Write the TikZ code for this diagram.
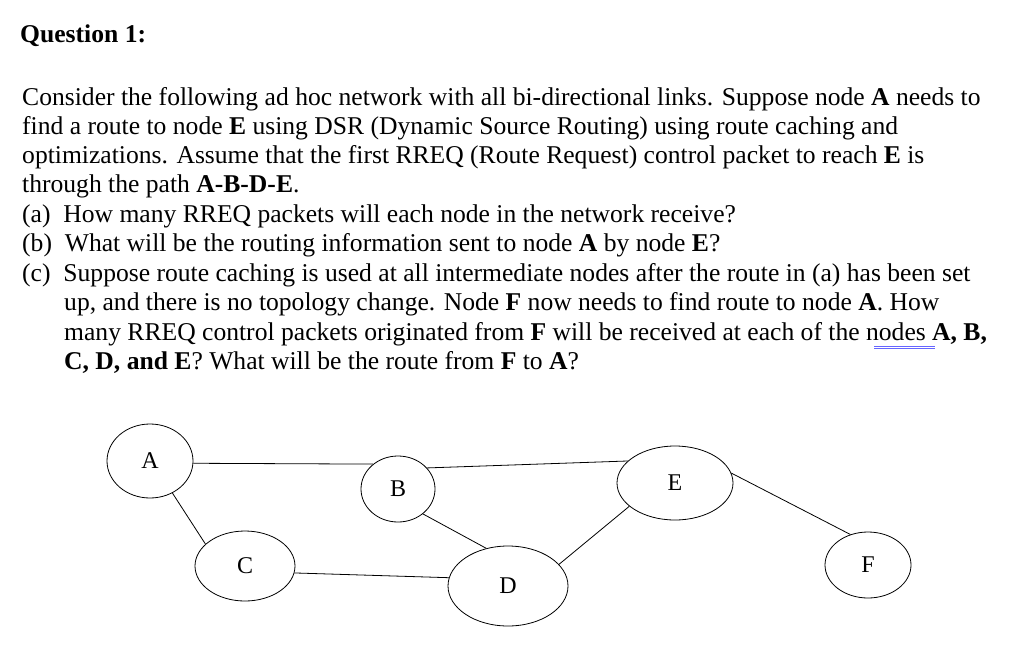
\documentclass[tikz,border=0pt]{standalone}
\usepackage{fontspec}
\usetikzlibrary{shapes.geometric}
\setmainfont{Liberation Serif}
\begin{document}
\begin{tikzpicture}[x=1pt,y=-1pt,
  txt/.style={anchor=base west,inner sep=0pt,font=\fontsize{25.6}{29}\selectfont},
  nd/.style={draw,ellipse,line width=0.8pt,font=\fontsize{24}{28}\selectfont},
  ln/.style={line width=0.8pt}]
\useasboundingbox (0,0) rectangle (1024,653);
\node[txt,font=\fontsize{25.6}{29}\selectfont\bfseries] (q) at (20,42) {Question 1:};
\node[txt] (l1) at (22,105) {Consider the following ad hoc network with all bi-directional links. Suppose node \textbf{A} needs to};
\node[txt] (l2) at (22,134) {find a route to node \textbf{E} using DSR (Dynamic Source Routing) using route caching and};
\node[txt] (l3) at (22,163) {optimizations. Assume that the first RREQ (Route Request) control packet to reach \textbf{E} is};
\node[txt] (l4) at (22,192) {through the path \textbf{A-B-D-E}.};
\node[txt] (a) at (22,222) {(a)\ \ How many RREQ packets will each node in the network receive?};
\node[txt] (b) at (22,251) {(b)\ \ What will be the routing information sent to node \textbf{A} by node \textbf{E}?};
\node[txt] (c1) at (22,281) {(c)\ \ Suppose route caching is used at all intermediate nodes after the route in (a) has been set};
\node[txt] (c2) at (64,310) {up, and there is no topology change. Node \textbf{F} now needs to find route to node \textbf{A}. How};
\node[txt] (c3) at (64,340) {many RREQ control packets originated from \textbf{F} will be received at each of the nodes \textbf{A, B,}};
\node[txt] (c4) at (64,369) {\textbf{C, D, and E}? What will be the route from \textbf{F} to \textbf{A}?};
\draw[blue!60,line width=0.6pt] (874,346) -- (935,346) (874,348.5) -- (935,348.5);

\node[nd,minimum width=86pt,minimum height=74pt] (A) at (150,461) {A};
\node[nd,minimum width=74pt,minimum height=66pt] (B) at (398,489) {B};
\node[nd,minimum width=100pt,minimum height=70pt] (C) at (245,566) {C};
\node[nd,minimum width=120pt,minimum height=80pt] (D) at (508,586) {D};
\node[nd,minimum width=116pt,minimum height=74pt] (E) at (675,483) {E};
\node[nd,minimum width=86pt,minimum height=66pt] (F) at (868,565) {F};

\draw[ln] (A.-3) -- (B.135);
\draw[ln] (B.36) -- (E.155);
\draw[ln] (A.-55) -- (C.151);
\draw[ln] (C.-8) -- (D.172);
\draw[ln] (B.-45) -- (D.120);
\draw[ln] (D.23) -- (E.-153);
\draw[ln] (E.10) -- (F.120);
\end{tikzpicture}
\end{document}
